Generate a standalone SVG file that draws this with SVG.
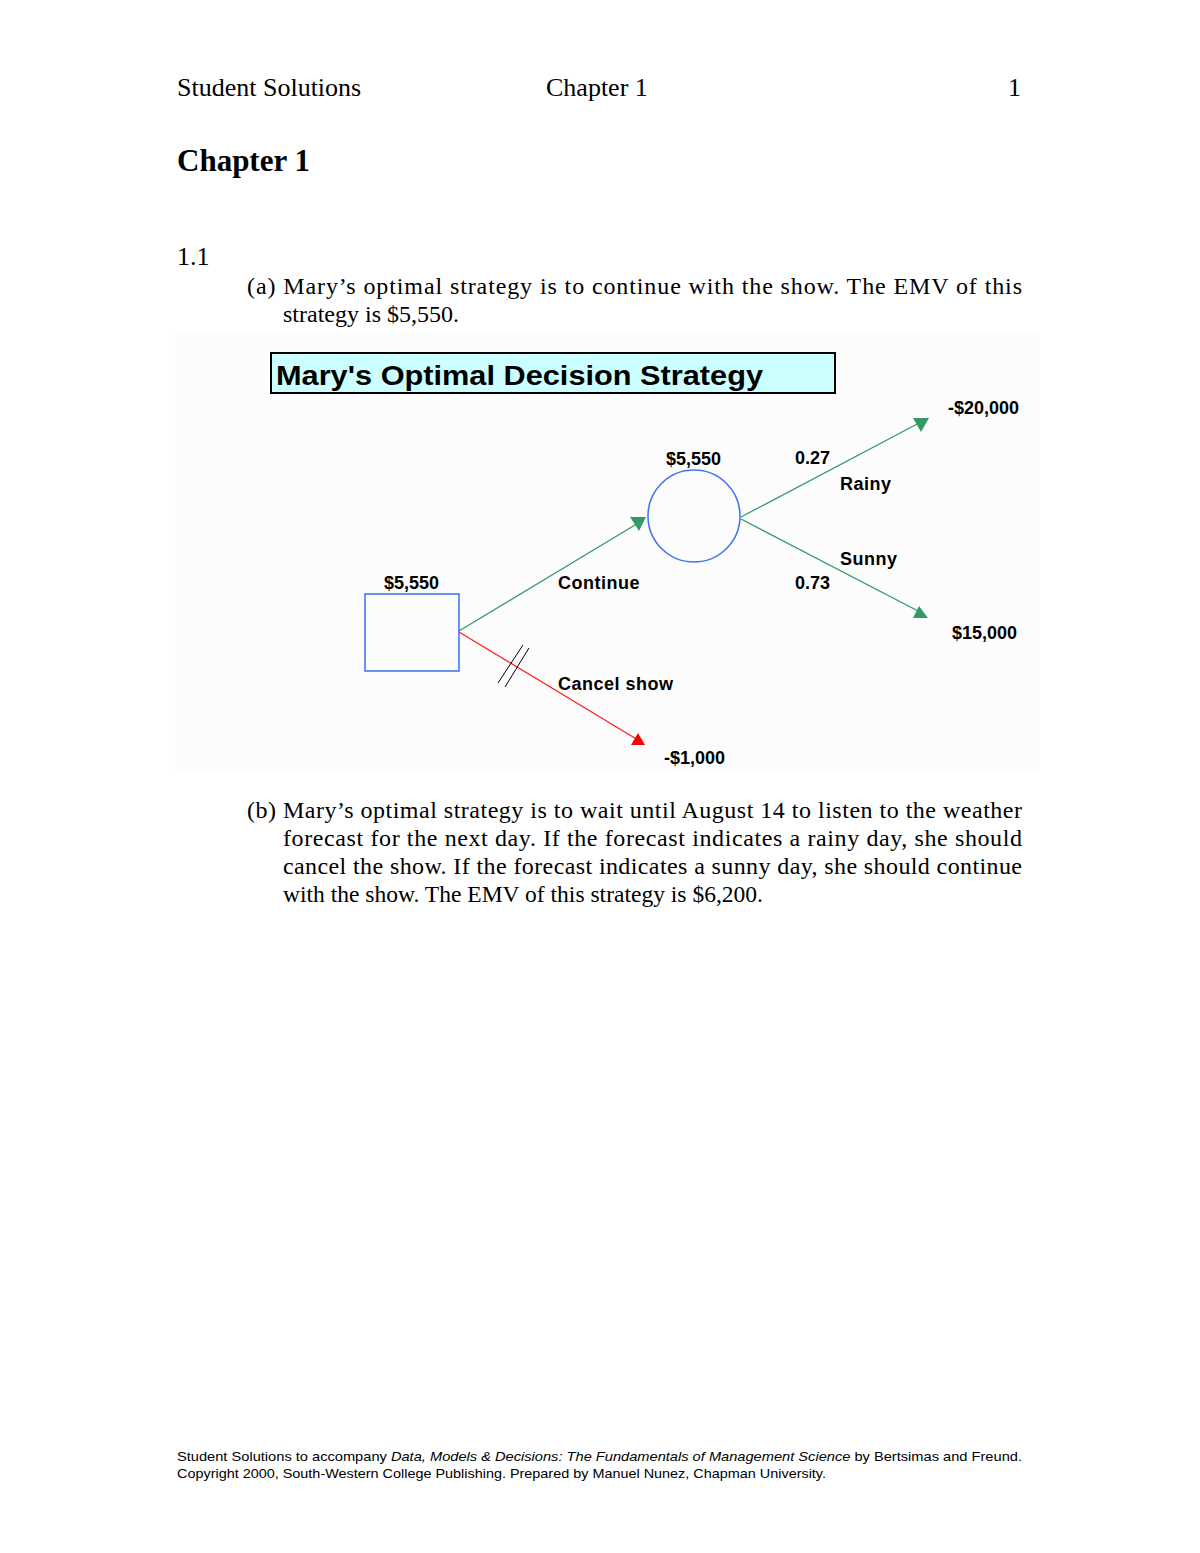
<svg xmlns="http://www.w3.org/2000/svg" width="1200" height="1553" viewBox="0 0 1200 1553">
<style>
.serif{font-family:"Liberation Serif","Times New Roman",serif;fill:#000}
.lbl{font-family:"Liberation Sans",Arial,sans-serif;font-weight:bold;font-size:18px;fill:#000}
.foot{font-family:"Liberation Sans",Arial,sans-serif;font-size:13px;fill:#000}
.node{fill:none;stroke:#4477ee;stroke-width:1.6}
.green{stroke:#339966;stroke-width:1.3;fill:none}
.red{stroke:#ff2020;stroke-width:1.3;fill:none}
.ahg{fill:#339966}
.ahr{fill:#ff0000}
.brk{stroke:#000;stroke-width:1}
</style>
<rect width="1200" height="1553" fill="#fff"/>
<text class="serif" x="177" y="96" font-size="26">Student Solutions</text>
<text class="serif" x="546" y="96" font-size="26">Chapter 1</text>
<text class="serif" x="1008" y="96" font-size="26">1</text>
<text class="serif" x="177" y="171" font-size="31" font-weight="bold">Chapter 1</text>
<text class="serif" x="177" y="265" font-size="26">1.1</text>
<text class="serif" x="247" y="294" font-size="24" textLength="775" lengthAdjust="spacing">(a) Mary’s optimal strategy is to continue with the show. The EMV of this</text>
<text class="serif" x="283" y="322" font-size="24">strategy is $5,550.</text>

<rect x="175" y="332" width="864" height="438" fill="#fcfcfc"/>

<g id="title">
<rect x="271" y="353" width="564" height="40" fill="#ccffff" stroke="#000" stroke-width="2"/>
<text x="276" y="385" font-family="Liberation Sans,Arial,sans-serif" font-weight="bold" font-size="28" textLength="487" lengthAdjust="spacingAndGlyphs">Mary's Optimal Decision Strategy</text>
</g>

<g id="connectors">
<path class="green" d="M459,631 L640,522"/>
<path class="red" d="M459,632 L638,740"/>
<path class="green" d="M741,517 L921,422"/>
<path class="green" d="M741,519 L920,612"/>
<polygon class="ahg" points="630,517 646,517 639,531"/>
<polygon class="ahg" points="913,418 929,418 921,432"/>
<polygon class="ahg" points="913,618 928,618 919,606"/>
<polygon class="ahr" points="631,745 645,745 638,733"/>
<line class="brk" x1="498" y1="683" x2="523" y2="645"/>
<line class="brk" x1="505" y1="687" x2="529" y2="648"/>
</g>

<g id="decision">
<rect class="node" x="365" y="594" width="94" height="77"/>
<text class="lbl" x="384" y="589">$5,550</text>
</g>
<g id="chance">
<circle class="node" cx="694" cy="516" r="46"/>
<text class="lbl" x="666" y="465">$5,550</text>
</g>
<g id="labels">
<text class="lbl" x="558" y="589" letter-spacing="0.5">Continue</text>
<text class="lbl" x="558" y="690" letter-spacing="0.5">Cancel show</text>
<text class="lbl" x="664" y="764">-$1,000</text>
<text class="lbl" x="795" y="464">0.27</text>
<text class="lbl" x="840" y="490" letter-spacing="0.5">Rainy</text>
<text class="lbl" x="840" y="565" letter-spacing="0.5">Sunny</text>
<text class="lbl" x="795" y="589">0.73</text>
<text class="lbl" x="948" y="414">-$20,000</text>
<text class="lbl" x="952" y="639">$15,000</text>
</g>

<text class="serif" x="247" y="818" font-size="24" textLength="775" lengthAdjust="spacing">(b) Mary’s optimal strategy is to wait until August 14 to listen to the weather</text>
<text class="serif" x="283" y="846" font-size="24" textLength="739" lengthAdjust="spacing">forecast for the next day. If the forecast indicates a rainy day, she should</text>
<text class="serif" x="283" y="874" font-size="24" textLength="739" lengthAdjust="spacing">cancel the show. If the forecast indicates a sunny day, she should continue</text>
<text class="serif" x="283" y="902" font-size="24" textLength="480" lengthAdjust="spacingAndGlyphs">with the show. The EMV of this strategy is $6,200.</text>

<text class="foot" x="177" y="1461" textLength="845" lengthAdjust="spacingAndGlyphs">Student Solutions to accompany <tspan font-style="italic">Data, Models &amp; Decisions: The Fundamentals of Management Science</tspan> by Bertsimas and Freund.</text>
<text class="foot" x="177" y="1478" textLength="649" lengthAdjust="spacingAndGlyphs">Copyright 2000, South-Western College Publishing.  Prepared by Manuel Nunez, Chapman University.</text>
</svg>
